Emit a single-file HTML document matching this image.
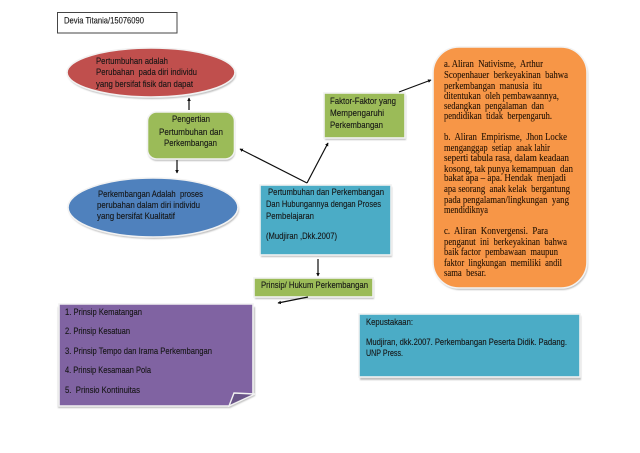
<!DOCTYPE html>
<html>
<head>
<meta charset="utf-8">
<style>
html,body{margin:0;padding:0;background:#fff;width:640px;height:453px;overflow:hidden}
svg{display:block}
text{font-family:"Liberation Sans",sans-serif;font-size:9.6px;fill:#151515;stroke:#151515;stroke-width:0.12;white-space:pre}
.s text{font-family:"Liberation Serif",serif;font-size:10px;fill:#241206;stroke:#241206;stroke-width:0.1}
.b{filter:url(#blur)}
.ln{stroke:#111;stroke-width:1.2;fill:none}
.sh{fill:#c0c0c0;stroke:none;filter:url(#blur2)}
.bd{stroke:#f2f2f2;stroke-width:1.6}
</style>
</head>
<body>
<svg width="640" height="453" viewBox="0 0 640 453" xmlns="http://www.w3.org/2000/svg">
<defs>
<filter id="blur" x="-5%" y="-5%" width="110%" height="110%"><feGaussianBlur stdDeviation="0.3"/></filter>
<filter id="blur2" x="-10%" y="-10%" width="120%" height="120%"><feGaussianBlur stdDeviation="0.8"/></filter>
<marker id="a" markerWidth="3.5" markerHeight="3.6" refX="3" refY="1.8" orient="auto" markerUnits="userSpaceOnUse"><path d="M0,0 L3.5,1.8 L0,3.6 Z" fill="#111"/></marker>
</defs>
<rect width="640" height="453" fill="#fff"/>
<g class="b">
<rect x="57.5" y="12.5" width="119.5" height="20.5" fill="#fff" stroke="#444" stroke-width="1"/>

<ellipse class="sh" cx="152" cy="74.5" rx="84" ry="24.5"/>
<ellipse class="bd" cx="151" cy="72.5" rx="84" ry="24.5" fill="#c0504d"/>

<rect class="sh" x="148" y="114" width="87" height="47" rx="9"/>
<rect class="bd" x="147.5" y="112" width="87" height="47" rx="9" fill="#9bbb59"/>

<ellipse class="sh" cx="154" cy="209.5" rx="85" ry="29.5"/>
<ellipse class="bd" cx="153" cy="207.5" rx="85" ry="29.5" fill="#4f81bd"/>

<rect class="sh" x="325" y="95" width="81" height="45"/>
<rect class="bd" x="324" y="93" width="81" height="45" fill="#9bbb59"/>

<rect class="sh" x="261" y="187" width="131" height="70"/>
<rect class="bd" x="260" y="185" width="131" height="70" fill="#4bacc6"/>

<rect class="sh" x="255" y="280" width="119" height="19"/>
<rect class="bd" x="254" y="278" width="119" height="19" fill="#9bbb59"/>

<rect class="sh" x="434" y="49" width="154" height="241" rx="26"/>
<rect class="bd" x="433" y="47" width="154" height="241" rx="26" fill="#f79646"/>

<path class="sh" d="M58,307 H255 V396 L230,408 H58 Z"/>
<path class="bd" d="M59,304 H253 V394 L229,406 H59 Z" fill="#8064a2"/>
<path d="M229,406 L234,393 L255,394 Z" fill="#6b5488" stroke="#f2f2f2" stroke-width="1.4"/>

<rect class="sh" x="360" y="316" width="221" height="64"/>
<rect class="bd" x="359" y="314" width="221" height="63" fill="#4bacc6"/>

<line class="ln" x1="189" y1="110" x2="189" y2="98" marker-end="url(#a)"/>
<line class="ln" x1="177" y1="160" x2="177" y2="173" marker-end="url(#a)"/>
<line class="ln" x1="307" y1="183" x2="240" y2="149" marker-end="url(#a)"/>
<line class="ln" x1="307" y1="183" x2="328" y2="143" marker-end="url(#a)"/>
<line class="ln" x1="399" y1="92" x2="431" y2="80" marker-end="url(#a)"/>
<line class="ln" x1="318" y1="259" x2="318" y2="276" marker-end="url(#a)"/>
<line class="ln" x1="308" y1="297" x2="278" y2="303" marker-end="url(#a)"/>

<text x="64" y="23.5" textLength="80" lengthAdjust="spacingAndGlyphs">Devia Titania/15076090</text>

<text x="96" y="64" textLength="72" lengthAdjust="spacingAndGlyphs">Pertumbuhan adalah</text>
<text x="96" y="75" textLength="101" lengthAdjust="spacingAndGlyphs">Perubahan  pada diri individu</text>
<text x="96" y="87" textLength="97" lengthAdjust="spacingAndGlyphs">yang bersifat fisik dan dapat</text>

<text x="172" y="122" textLength="38" lengthAdjust="spacingAndGlyphs">Pengertian</text>
<text x="159" y="135" textLength="64" lengthAdjust="spacingAndGlyphs">Pertumbuhan dan</text>
<text x="164" y="146" textLength="53" lengthAdjust="spacingAndGlyphs">Perkembangan</text>

<text x="98" y="197" textLength="105" lengthAdjust="spacingAndGlyphs">Perkembangan Adalah  proses</text>
<text x="97" y="208" textLength="103" lengthAdjust="spacingAndGlyphs">perubahan dalam diri individu</text>
<text x="97" y="219" textLength="78" lengthAdjust="spacingAndGlyphs">yang bersifat Kualitatif</text>

<text x="330" y="104" textLength="66" lengthAdjust="spacingAndGlyphs">Faktor-Faktor yang</text>
<text x="330" y="116" textLength="54" lengthAdjust="spacingAndGlyphs">Mempengaruhi</text>
<text x="330" y="128" textLength="53" lengthAdjust="spacingAndGlyphs">Perkembangan</text>

<text x="268" y="195" textLength="116" lengthAdjust="spacingAndGlyphs">Pertumbuhan dan Perkembangan</text>
<text x="266" y="207" textLength="115" lengthAdjust="spacingAndGlyphs">Dan Hubungannya dengan Proses</text>
<text x="266" y="219" textLength="48" lengthAdjust="spacingAndGlyphs">Pembelajaran</text>
<text x="266" y="239" textLength="71" lengthAdjust="spacingAndGlyphs">(Mudjiran ,Dkk.2007)</text>

<text x="261" y="288" textLength="107" lengthAdjust="spacingAndGlyphs">Prinsip/ Hukum Perkembangan</text>

<g class="s">
<text x="444" y="67" textLength="99" lengthAdjust="spacingAndGlyphs">a. Aliran  Nativisme,  Arthur</text>
<text x="444" y="78" textLength="124" lengthAdjust="spacingAndGlyphs">Scopenhauer  berkeyakinan  bahwa</text>
<text x="444" y="89" textLength="98" lengthAdjust="spacingAndGlyphs">perkembangan  manusia  itu</text>
<text x="444" y="99" textLength="115" lengthAdjust="spacingAndGlyphs">ditentukan  oleh pembawaannya,</text>
<text x="444" y="109" textLength="100" lengthAdjust="spacingAndGlyphs">sedangkan  pengalaman  dan</text>
<text x="444" y="119" textLength="108" lengthAdjust="spacingAndGlyphs">pendidikan  tidak  berpengaruh.</text>

<text x="444" y="140" textLength="123" lengthAdjust="spacingAndGlyphs">b.  Aliran  Empirisme,  Jhon Locke</text>
<text x="444" y="151" textLength="106" lengthAdjust="spacingAndGlyphs">menganggap  setiap  anak lahir</text>
<text x="444" y="161" textLength="125" lengthAdjust="spacingAndGlyphs">seperti tabula rasa, dalam keadaan</text>
<text x="444" y="172" textLength="129" lengthAdjust="spacingAndGlyphs">kosong, tak punya kemampuan  dan</text>
<text x="444" y="181" textLength="122" lengthAdjust="spacingAndGlyphs">bakat apa – apa. Hendak  menjadi</text>
<text x="444" y="192" textLength="126" lengthAdjust="spacingAndGlyphs">apa seorang  anak kelak  bergantung</text>
<text x="444" y="203" textLength="125" lengthAdjust="spacingAndGlyphs">pada pengalaman/lingkungan  yang</text>
<text x="444" y="213" textLength="44" lengthAdjust="spacingAndGlyphs">mendidiknya</text>

<text x="444" y="234" textLength="104" lengthAdjust="spacingAndGlyphs">c.  Aliran  Konvergensi.  Para</text>
<text x="444" y="245" textLength="123" lengthAdjust="spacingAndGlyphs">penganut  ini  berkeyakinan  bahwa</text>
<text x="444" y="255" textLength="114" lengthAdjust="spacingAndGlyphs">baik factor  pembawaan  maupun</text>
<text x="444" y="266" textLength="118" lengthAdjust="spacingAndGlyphs">faktor  lingkungan  memiliki  andil</text>
<text x="444" y="276" textLength="42" lengthAdjust="spacingAndGlyphs">sama  besar.</text>
</g>

<text x="65" y="315" textLength="77" lengthAdjust="spacingAndGlyphs">1. Prinsip Kematangan</text>
<text x="65" y="334" textLength="65" lengthAdjust="spacingAndGlyphs">2. Prinsip Kesatuan</text>
<text x="65" y="354" textLength="147" lengthAdjust="spacingAndGlyphs">3. Prinsip Tempo dan Irama Perkembangan</text>
<text x="65" y="373" textLength="86" lengthAdjust="spacingAndGlyphs">4. Prinsip Kesamaan Pola</text>
<text x="65" y="393" textLength="75" lengthAdjust="spacingAndGlyphs">5.  Prinsio Kontinuitas</text>

<text x="366" y="325" textLength="47" lengthAdjust="spacingAndGlyphs">Kepustakaan:</text>
<text x="366" y="345" textLength="201" lengthAdjust="spacingAndGlyphs">Mudjiran, dkk.2007. Perkembangan Peserta Didik. Padang.</text>
<text x="366" y="356" textLength="37" lengthAdjust="spacingAndGlyphs">UNP Press.</text>
</g>
</svg>
</body>
</html>
